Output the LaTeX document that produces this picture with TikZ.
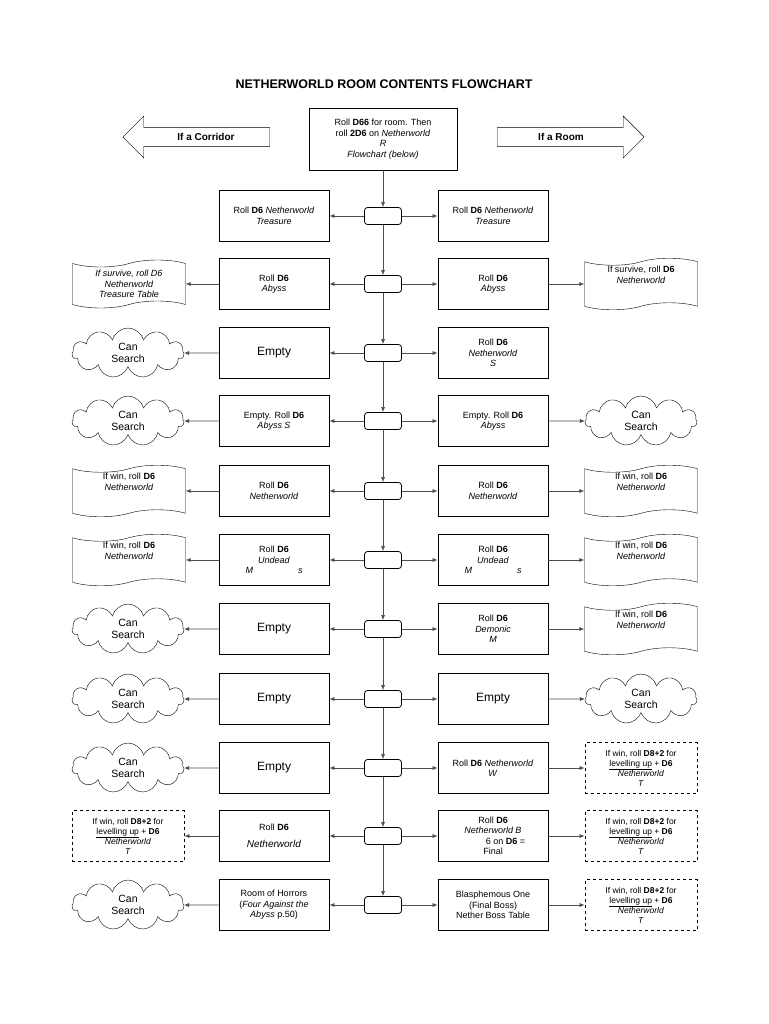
\documentclass[tikz,border=0pt]{standalone}
\usepackage{fontspec}
\setmainfont{Liberation Sans}
\usetikzlibrary{shapes.symbols,shapes.arrows,arrows.meta}
\begin{document}
\begin{tikzpicture}[x=1pt,y=-1pt,
  every node/.style={font=\fontsize{9}{10.5}\selectfont,align=center,inner sep=1pt},
  box/.style={draw,line width=0.8pt,minimum width=110pt,minimum height=51pt},
  big/.style={font=\fontsize{12}{14}\selectfont},
  hub/.style={draw,rounded corners=3pt,line width=0.8pt,minimum width=37pt,minimum height=17pt},
  cl/.style={draw,cloud,cloud puffs=11,aspect=2.2,minimum width=112pt,minimum height=50pt,inner sep=0pt},
  wv/.style={draw,tape,tape bend top=in and out,tape bend bottom=in and out,tape bend height=7pt,minimum width=113pt,minimum height=48pt},
  ds/.style={draw,dashed,line width=0.8pt,minimum width=112pt,minimum height=51pt},
  ar/.style={-{Latex[length=5pt,width=4pt]},line width=0.6pt,gray!60!black}]
\useasboundingbox (0,0) rectangle (768,1024);
\node[font=\bfseries\fontsize{12.5}{14}\selectfont] (title) at (384,84) {NETHERWORLD ROOM CONTENTS FLOWCHART};
\node[draw,minimum width=148pt,minimum height=62pt] (top) at (383,139) {Roll \textbf{D66} for room. Then\\roll \textbf{2D6} on \textit{Netherworld}\\\textit{R}\\\textit{Flowchart (below)}};
\node[draw,single arrow,shape border rotate=180,single arrow head extend=6pt,minimum height=147pt,minimum width=42pt,font=\bfseries\fontsize{10}{12}\selectfont] (lc) at (201,137) {\hspace{10pt}If a Corridor};
\node[draw,single arrow,single arrow head extend=6pt,minimum height=147pt,minimum width=42pt,font=\bfseries\fontsize{10}{12}\selectfont] (rr) at (566,137) {If a Room\hspace{10pt}};
% rows
\foreach \i/\y in {1/216,2/284,3/353,4/421,5/491,6/560,7/629,8/699,9/768,10/836,11/905}{
  \node[hub] (h\i) at (383,\y) {};
}
\node[box] (l1) at (274,216) {Roll \textbf{D6} \textit{Netherworld}\\\textit{Treasure}};
\node[box] (r1) at (493,216) {Roll \textbf{D6} \textit{Netherworld}\\\textit{Treasure}};
\node[box] (l2) at (274,284) {Roll \textbf{D6}\\\textit{Abyss}\hspace{50pt}};
\node[box] (r2) at (493,284) {Roll \textbf{D6}\\\textit{Abyss}\hspace{50pt}};
\node[box,big] (l3) at (274,353) {Empty};
\node[box] (r3) at (493,353) {Roll \textbf{D6}\\\textit{Netherworld}\\\textit{S}\hspace{50pt}};
\node[box] (l4) at (274,421) {Empty. Roll \textbf{D6}\\\textit{Abyss S}\hspace{22pt}};
\node[box] (r4) at (493,421) {Empty. Roll \textbf{D6}\\\textit{Abyss}\hspace{42pt}};
\node[box] (l5) at (274,491) {Roll \textbf{D6}\\\textit{Netherworld}};
\node[box] (r5) at (493,491) {Roll \textbf{D6}\\\textit{Netherworld}};
\node[box] (l6) at (274,560) {Roll \textbf{D6}\\\textit{Undead}\\\textit{M}\hspace{45pt}\textit{s}};
\node[box] (r6) at (493,560) {Roll \textbf{D6}\\\textit{Undead}\\\textit{M}\hspace{45pt}\textit{s}};
\node[box,big] (l7) at (274,629) {Empty};
\node[box] (r7) at (493,629) {Roll \textbf{D6}\\\textit{Demonic}\\\textit{M}\hspace{50pt}};
\node[box,big] (l8) at (274,699) {Empty};
\node[box,big] (r8) at (493,699) {Empty};
\node[box,big] (l9) at (274,768) {Empty};
\node[box] (r9) at (493,768) {Roll \textbf{D6} \textit{Netherworld}\\\textit{W}\hspace{60pt}};
\node[box] (l10) at (274,836) {Roll \textbf{D6}\\[6pt]{\fontsize{10}{12}\selectfont\textit{Netherworld}}};
\node[box] (r10) at (493,836) {Roll \textbf{D6}\\\textit{Netherworld B}\\\hspace{25pt}6 on \textbf{D6} =\\Final};
\node[box] (l11) at (274,905) {Room of Horrors\\(\textit{Four Against the}\\\textit{Abyss} p.50)};
\node[box] (r11) at (493,905) {Blasphemous One\\(Final Boss)\\Nether Boss Table};
% outer shapes
\newcommand\csearch{Can\\Search}
\newcommand\winT{If win, roll \textbf{D8+2} for\\\underline{levelling up} + \textbf{D6}\\\textit{Netherworld}\\\textit{T}\hspace{50pt}}
\node[wv] (ol2) at (129,284) {\textit{If survive, roll D6}\\\textit{Netherworld}\\\textit{Treasure Table}};
\node[wv] (or2) at (641,284) {If survive, roll \textbf{D6}\\\textit{Netherworld}\\[8pt]};
\node[cl,font=\fontsize{10.5}{12}\selectfont] (ol3) at (128,353) {\csearch};
\node[cl,font=\fontsize{10.5}{12}\selectfont] (ol4) at (128,421) {\csearch};
\node[cl,font=\fontsize{10.5}{12}\selectfont] (or4) at (641,421) {\csearch};
\node[wv] (ol5) at (129,491) {If win, roll \textbf{D6}\\\textit{Netherworld}\\[8pt]};
\node[wv] (or5) at (641,491) {If win, roll \textbf{D6}\\\textit{Netherworld}\\[8pt]};
\node[wv] (ol6) at (129,560) {If win, roll \textbf{D6}\\\textit{Netherworld}\\[8pt]};
\node[wv] (or6) at (641,560) {If win, roll \textbf{D6}\\\textit{Netherworld}\\[8pt]};
\node[cl,font=\fontsize{10.5}{12}\selectfont] (ol7) at (128,629) {\csearch};
\node[wv] (or7) at (641,629) {If win, roll \textbf{D6}\\\textit{Netherworld}\\[8pt]};
\node[cl,font=\fontsize{10.5}{12}\selectfont] (ol8) at (128,699) {\csearch};
\node[cl,font=\fontsize{10.5}{12}\selectfont] (or8) at (641,699) {\csearch};
\node[cl,font=\fontsize{10.5}{12}\selectfont] (ol9) at (128,768) {\csearch};
\node[ds,font=\fontsize{8.5}{10}\selectfont] (or9) at (641,768) {\winT};
\node[ds,font=\fontsize{8.5}{10}\selectfont] (ol10) at (128,836) {\winT};
\node[ds,font=\fontsize{8.5}{10}\selectfont] (or10) at (641,836) {\winT};
\node[cl,font=\fontsize{10.5}{12}\selectfont] (ol11) at (128,905) {\csearch};
\node[ds,font=\fontsize{8.5}{10}\selectfont] (or11) at (641,905) {\winT};
% connectors
\draw[ar] (top) -- (h1);
\foreach \a/\b in {1/2,2/3,3/4,4/5,5/6,6/7,7/8,8/9,9/10,10/11}{\draw[ar] (h\a) -- (h\b);}
\foreach \i in {1,...,11}{\draw[ar] (h\i) -- (l\i); \draw[ar] (h\i) -- (r\i);}
\foreach \i in {2,3,4,5,6,7,8,9,10,11}{\draw[ar] (l\i) -- (ol\i.east);}
\foreach \i in {2,4,5,6,7,8,9,10,11}{\draw[ar] (r\i) -- (or\i.west);}
\end{tikzpicture}
\end{document}
